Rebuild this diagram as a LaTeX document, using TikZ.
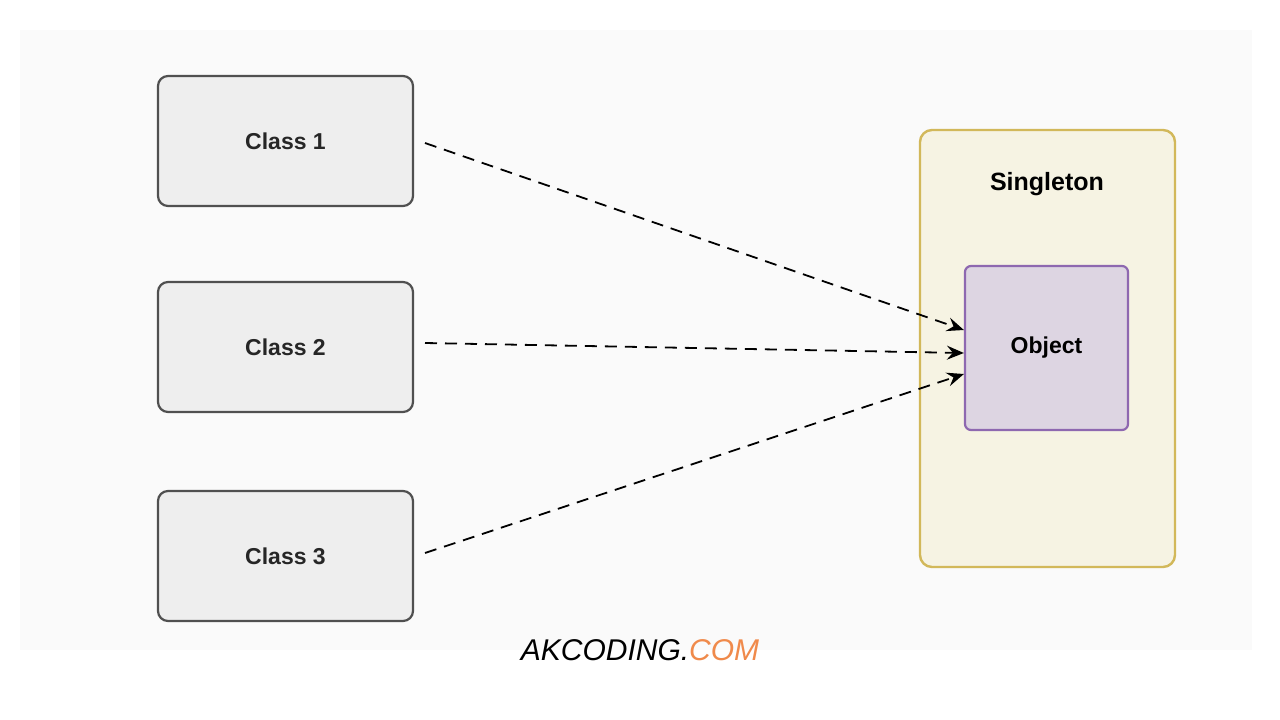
\documentclass[tikz,border=0pt]{standalone}
\usepackage{fontspec}
\setmainfont{Liberation Sans}
\usetikzlibrary{arrows.meta}
\definecolor{cfill}{HTML}{EEEEEE}
\definecolor{cdraw}{HTML}{505050}
\definecolor{sfill}{HTML}{F6F3E3}
\definecolor{sdraw}{HTML}{D2B85A}
\definecolor{ofill}{HTML}{DDD5E2}
\definecolor{odraw}{HTML}{8E68B0}
\definecolor{orng}{HTML}{F08A4B}
\begin{document}
\begin{tikzpicture}[x=1pt,y=-1pt,
  cls/.style={draw=cdraw,fill=cfill,line width=2.2pt,rounded corners=10pt,minimum width=255pt,minimum height=130pt,font=\fontsize{23}{27}\selectfont\bfseries,text=black!85},
  conn/.style={dashed,dash pattern=on 12pt off 8pt,line width=1.8pt,-{Stealth[length=17pt,width=14pt,inset=6pt]}}]
\useasboundingbox (0,0) rectangle (1280,720);
\fill[white] (0,0) rectangle (1280,720);
\fill[black!2] (20,30) rectangle (1252,650);
\node[cls] (c1) at (285.5,141) {Class 1};
\node[cls] (c2) at (285.5,347) {Class 2};
\node[cls] (c3) at (285.5,556) {Class 3};
\node[draw=sdraw,fill=sfill,line width=2.4pt,rounded corners=12pt,minimum width=255pt,minimum height=437pt] (s) at (1047.5,348.5) {};
\node[font=\fontsize{25}{29}\selectfont\bfseries] (st) at (1047,184) {Singleton};
\node[draw=odraw,fill=ofill,line width=2.2pt,rounded corners=6pt,minimum width=163pt,minimum height=164pt,font=\fontsize{23}{27}\selectfont\bfseries] (o) at (1046.5,348) {Object};
\coordinate (a1) at (425,143);
\coordinate (a2) at (425,343);
\coordinate (a3) at (425,553);
\draw[conn] (a1) -- (o.west |- 0,330);
\draw[conn] (a2) -- (o.west |- 0,353);
\draw[conn] (a3) -- (o.west |- 0,374);
\node[font=\fontsize{30}{34}\selectfont\itshape] (wm) at (640,650) {AKCODING.\textcolor{orng}{COM}};
\end{tikzpicture}
\end{document}
